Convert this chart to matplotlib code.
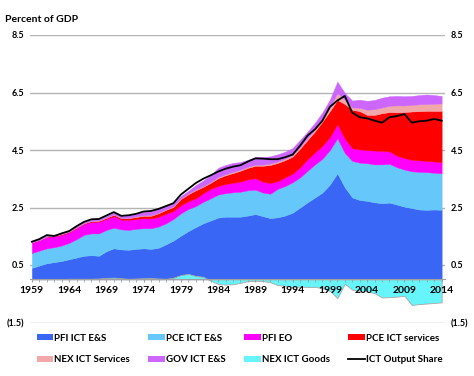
import numpy as np
import matplotlib
matplotlib.use("Agg")
import matplotlib.pyplot as plt
from matplotlib.patches import Patch
from matplotlib.lines import Line2D

plt.rcParams["font.family"] = ["Lato", "DejaVu Sans"]
plt.rcParams["font.weight"] = "bold"

years = np.arange(1959, 2015)

# PFI ICT equipment & software
pfi_ict = [0.40, 0.48, 0.56, 0.60, 0.64, 0.70, 0.76, 0.82, 0.84, 0.82,
           0.98, 1.08, 1.04, 1.03, 1.06, 1.08, 1.06, 1.10, 1.22, 1.35,
           1.52, 1.68, 1.82, 1.95, 2.05, 2.15, 2.18, 2.18, 2.18, 2.22,
           2.27, 2.20, 2.13, 2.16, 2.22, 2.32, 2.50, 2.68, 2.85, 3.02,
           3.30, 3.69, 3.20, 2.85, 2.76, 2.73, 2.68, 2.65, 2.67, 2.60,
           2.53, 2.48, 2.43, 2.42, 2.43, 2.42]
# PCE ICT equipment & software
pce_ict = [0.52, 0.52, 0.52, 0.52, 0.54, 0.57, 0.64, 0.73, 0.76, 0.78,
           0.74, 0.72, 0.70, 0.69, 0.70, 0.70, 0.72, 0.74, 0.73, 0.75,
           0.78, 0.77, 0.73, 0.75, 0.77, 0.80, 0.82, 0.85, 0.87, 0.88,
           0.85, 0.82, 0.85, 0.99, 1.03, 1.06, 1.05, 1.10, 1.15, 1.18,
           1.20, 1.22, 1.20, 1.27, 1.30, 1.31, 1.32, 1.35, 1.35, 1.30,
           1.29, 1.28, 1.31, 1.31, 1.28, 1.27]
# PFI electronic other
pfi_eo = [0.36, 0.36, 0.39, 0.38, 0.37, 0.37, 0.38, 0.38, 0.40, 0.41,
          0.38, 0.40, 0.34, 0.35, 0.34, 0.35, 0.34, 0.34, 0.33, 0.28,
          0.28, 0.27, 0.27, 0.30, 0.33, 0.30, 0.32, 0.33, 0.35, 0.38,
          0.40, 0.38, 0.37, 0.27, 0.30, 0.30, 0.35, 0.40, 0.42, 0.45,
          0.45, 0.49, 0.50, 0.44, 0.46, 0.46, 0.48, 0.47, 0.43, 0.40,
          0.40, 0.40, 0.40, 0.39, 0.39, 0.39]
# PCE ICT services
pce_svc = [0.01, 0.01, 0.02, 0.02, 0.02, 0.02, 0.02, 0.02, 0.03, 0.03,
           0.04, 0.05, 0.05, 0.06, 0.07, 0.08, 0.09, 0.12, 0.14, 0.14,
           0.22, 0.24, 0.28, 0.22, 0.21, 0.27, 0.30, 0.34, 0.38, 0.40,
           0.43, 0.55, 0.63, 0.63, 0.60, 0.59, 0.65, 0.67, 0.73, 0.84,
           0.90, 0.84, 1.20, 1.34, 1.33, 1.22, 1.24, 1.31, 1.37, 1.51,
           1.60, 1.68, 1.71, 1.74, 1.76, 1.78]
# NEX ICT services
nex_svc = [0.00, 0.00, 0.00, 0.00, 0.01, 0.01, 0.01, 0.01, 0.01, 0.01,
           0.01, 0.01, 0.01, 0.01, 0.02, 0.02, 0.02, 0.02, 0.02, 0.02,
           0.02, 0.03, 0.03, 0.03, 0.03, 0.04, 0.04, 0.04, 0.04, 0.04,
           0.04, 0.04, 0.05, 0.05, 0.05, 0.06, 0.06, 0.07, 0.08, 0.10,
           0.15, 0.24, 0.15, 0.08, 0.12, 0.18, 0.20, 0.20, 0.22, 0.24,
           0.23, 0.23, 0.24, 0.24, 0.25, 0.26]
# GOV ICT equipment & software
gov_ict = [0.02, 0.02, 0.04, 0.02, 0.02, 0.02, 0.03, 0.03, 0.04, 0.04,
           0.05, 0.07, 0.06, 0.08, 0.09, 0.12, 0.14, 0.13, 0.14, 0.12,
           0.08, 0.09, 0.15, 0.19, 0.23, 0.32, 0.32, 0.31, 0.26, 0.24,
           0.26, 0.27, 0.25, 0.25, 0.24, 0.24, 0.24, 0.22, 0.22, 0.22,
           0.25, 0.40, 0.23, 0.24, 0.28, 0.31, 0.32, 0.34, 0.33, 0.33,
           0.32, 0.31, 0.32, 0.33, 0.30, 0.26]
# NEX ICT goods (net exports, mostly negative)
nex_goods = [0.01, 0.01, 0.01, 0.01, 0.01, 0.02, 0.02, 0.02, 0.02, 0.03,
             0.05, 0.06, 0.04, 0.02, 0.03, 0.04, 0.05, 0.03, 0.02, 0.06,
             0.15, 0.19, 0.12, 0.09, -0.05, -0.16, -0.18, -0.17, -0.12, -0.06,
             -0.05, -0.06, -0.10, -0.20, -0.22, -0.28, -0.25, -0.27, -0.26, -0.31,
             -0.40, -0.65, -0.15, -0.36, -0.40, -0.42, -0.48, -0.63, -0.62, -0.60,
             -0.57, -0.89, -0.86, -0.84, -0.82, -0.80]
# ICT output share
output_share = [1.31, 1.40, 1.54, 1.51, 1.60, 1.68, 1.85, 2.00, 2.09, 2.10,
                2.22, 2.34, 2.21, 2.23, 2.28, 2.36, 2.38, 2.45, 2.55, 2.65,
                2.95, 3.15, 3.35, 3.50, 3.62, 3.75, 3.85, 3.92, 3.97, 4.10,
                4.21, 4.20, 4.18, 4.18, 4.25, 4.34, 4.65, 5.00, 5.22, 5.52,
                6.00, 6.22, 6.38, 5.80, 5.64, 5.60, 5.52, 5.45, 5.64, 5.68,
                5.75, 5.45, 5.50, 5.52, 5.58, 5.52]

labels = ["PFI ICT E&S", "PCE ICT E&S", "PFI EO", "PCE ICT services",
          "NEX ICT Services", "GOV ICT E&S", "NEX ICT Goods", "ICT Output Share"]
colors = ["#3A66F5", "#66C8FA", "#FF00FF", "#FF0000",
          "#F2A8A8", "#CC66FF", "#66F5FA", "black"]

yticks = [-1.5, 0.5, 2.5, 4.5, 6.5, 8.5]
ytick_labels = ["(1.5)", "0.5", "2.5", "4.5", "6.5", "8.5"]
xticks = list(range(1959, 2015, 5))

fig = plt.figure(figsize=(4.74, 3.76), dpi=100)
ax = fig.add_axes([30 / 474, 1 - 322.5 / 376, 415 / 474, 287.5 / 376])

# gridlines behind the areas
for t in yticks:
    ax.axhline(t, color="#B4B4B4", lw=1.0, zorder=0.5)

ax.stackplot(years, pfi_ict, pce_ict, pfi_eo, pce_svc, nex_svc, gov_ict,
             colors=colors[:6], edgecolor="face", linewidth=0.3, zorder=1)
ax.fill_between(years, 0, nex_goods, color=colors[6], edgecolor="#A8A8A8",
                linewidth=0.6, zorder=1.5)
ax.plot(years, output_share, color="black", lw=1.3, zorder=2)

ax.set_xlim(1958.75, 2014.45)
ax.set_ylim(-1.5, 8.5)

for s in ["top", "left", "right"]:
    ax.spines[s].set_visible(False)
ax.spines["bottom"].set_position(("data", 0))
ax.spines["bottom"].set_color("#A0A0A0")
ax.spines["bottom"].set_zorder(3)

ax.set_xticks(xticks)
ax.set_xticks(years, minor=True)
ax.tick_params(axis="x", which="both", direction="out", length=2.5,
               color="#A0A0A0", labelsize=7.5, pad=2)
ax.set_yticks(yticks)
ax.set_yticklabels(ytick_labels)
ax.tick_params(axis="y", length=0, labelsize=6.5, labelright=True, pad=4)
for lab in ax.get_xticklabels() + ax.get_yticklabels():
    lab.set_fontweight("bold")
for lab in ax.yaxis.get_ticklabels(which="major"):
    lab.set_fontweight("bold")

fig.text(5 / 474, 1 - 19 / 376, "Percent of GDP", fontsize=7.5,
         fontweight="bold", va="center", ha="left")

handles = [Patch(facecolor=c, edgecolor="none") for c in colors[:7]]
handles.append(Line2D([0], [0], color="black", lw=1.3))
order = [0, 4, 1, 5, 2, 6, 3, 7]
leg = fig.legend([handles[i] for i in order], [labels[i] for i in order],
                 loc="center", bbox_to_anchor=(0.505, 1 - 349 / 376), ncol=4,
                 frameon=False, fontsize=7, handlelength=1.7,
                 handleheight=0.5, handletextpad=0.1, columnspacing=1.9,
                 labelspacing=1.3)
for t in leg.get_texts():
    t.set_fontweight("bold")

fig.savefig("out.png", dpi=100)
